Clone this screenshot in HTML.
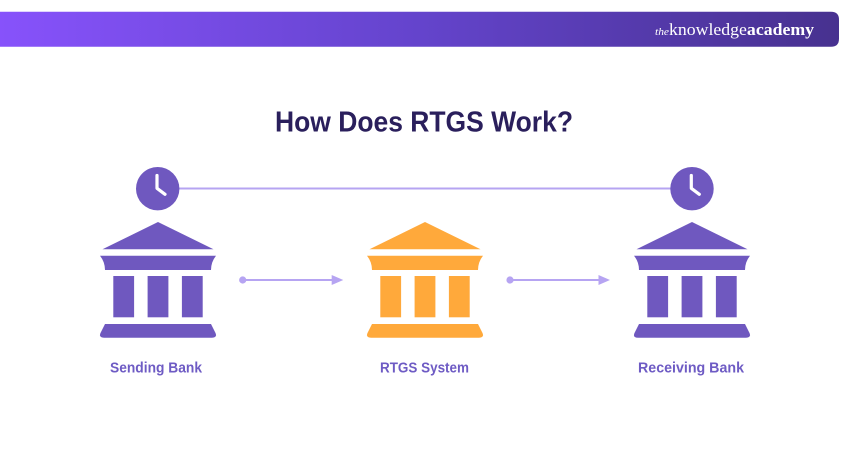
<!DOCTYPE html>
<html><head><meta charset="utf-8"><style>
html,body{margin:0;padding:0;background:#fff;}
svg{display:block;}
</style></head><body>
<svg width="850" height="450" viewBox="0 0 850 450" xmlns="http://www.w3.org/2000/svg">
<defs>
<linearGradient id="hg" x1="0" y1="0" x2="1" y2="0">
<stop offset="0" stop-color="#8752fb"/>
<stop offset="0.5" stop-color="#6444cc"/>
<stop offset="1" stop-color="#47318f"/>
</linearGradient>
<g id="bank">
<path d="M0,-66 L55.5,-38.7 L-55.5,-38.7 Z"/>
<path d="M-58,-32.3 L58,-32.3 Q53,-26 53,-18 L-53,-18 Q-53,-26 -58,-32.3 Z"/>
<rect x="-44.7" y="-12" width="20.8" height="41.3"/>
<rect x="-10.4" y="-12" width="20.8" height="41.3"/>
<rect x="23.9" y="-12" width="20.8" height="41.3"/>
<path d="M-53,36 L53,36 Q55,40 57.5,45 Q59.5,49.7 54,49.7 L-54,49.7 Q-59.5,49.7 -57.5,45 Q-55,40 -53,36 Z"/>
</g>
</defs>
<rect x="0" y="0" width="850" height="450" fill="#fff"/>
<path d="M0,11.7 L831,11.7 Q839,11.7 839,19.7 L839,38.7 Q839,46.7 831,46.7 L0,46.7 Z" fill="url(#hg)"/>
<text x="655" y="35" font-family="Liberation Serif, serif" font-size="17" fill="#fff" textLength="159" lengthAdjust="spacingAndGlyphs"><tspan font-style="italic" font-size="11">the</tspan><tspan font-weight="normal">knowledge</tspan><tspan font-weight="bold">academy</tspan></text>

<text x="275" y="131.5" font-family="Liberation Sans, sans-serif" font-weight="bold" font-size="29" fill="#2a1f5c" textLength="298" lengthAdjust="spacingAndGlyphs">How Does RTGS Work?</text>

<line x1="179" y1="188.5" x2="671" y2="188.5" stroke="#b6a4f2" stroke-width="2"/>
<g>
<circle cx="157.7" cy="188.7" r="21.7" fill="#6f58bf"/>
<polyline points="157,175.5 157,188.3 165,194.3" fill="none" stroke="#fff" stroke-width="3.2" stroke-linecap="round" stroke-linejoin="round"/>
</g>
<g>
<circle cx="692" cy="188.7" r="21.7" fill="#6f58bf"/>
<polyline points="691.3,175.5 691.3,188.3 699.3,194.3" fill="none" stroke="#fff" stroke-width="3.2" stroke-linecap="round" stroke-linejoin="round"/>
</g>

<use href="#bank" x="158" y="288" fill="#6f58bf"/>
<use href="#bank" x="425" y="288" fill="#ffa93b"/>
<use href="#bank" x="692" y="288" fill="#6f58bf"/>

<g fill="#b6a4f2" stroke="#b6a4f2">
<circle cx="242.7" cy="280" r="3.6" stroke="none"/>
<line x1="243" y1="280" x2="334" y2="280" stroke-width="2"/>
<path d="M331.7,275 L343.3,280 L331.7,285 Z" stroke="none"/>
<circle cx="510" cy="280" r="3.6" stroke="none"/>
<line x1="510" y1="280" x2="600" y2="280" stroke-width="2"/>
<path d="M598.5,275 L610,280 L598.5,285 Z" stroke="none"/>
</g>

<g font-family="Liberation Sans, sans-serif" font-weight="bold" font-size="14.5" fill="#6e5bc4">
<text x="110" y="372.3" textLength="92" lengthAdjust="spacingAndGlyphs">Sending Bank</text>
<text x="380" y="372.3" textLength="89" lengthAdjust="spacingAndGlyphs">RTGS System</text>
<text x="638" y="372.3" textLength="106" lengthAdjust="spacingAndGlyphs">Receiving Bank</text>
</g>
</svg>
</body></html>
